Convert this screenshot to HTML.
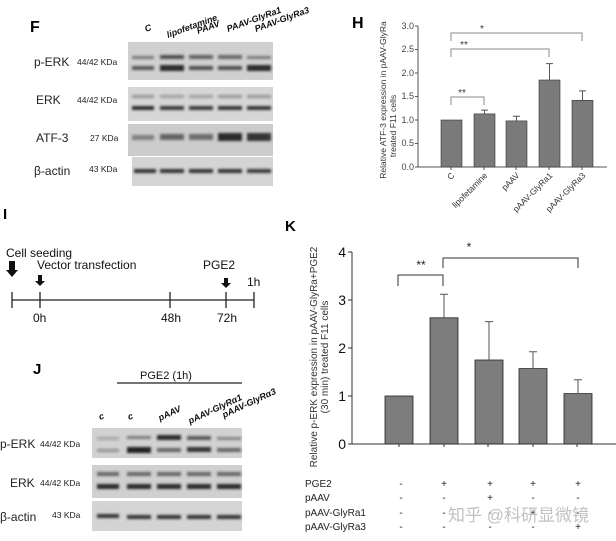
<!DOCTYPE html>
<html><head><meta charset="utf-8"><style>
html,body{margin:0;padding:0;background:#fff;}
svg{display:block;font-family:"Liberation Sans","Noto Sans CJK SC",sans-serif;}
</style></head><body>
<svg width="616" height="541" viewBox="0 0 616 541" xmlns="http://www.w3.org/2000/svg">
<defs>
<filter id="b" x="-20%" y="-100%" width="140%" height="300%"><feGaussianBlur stdDeviation="1.3"/></filter>
</defs>
<rect width="616" height="541" fill="#fff"/>

<!-- Panel F -->
<text x="30" y="32" font-size="16" font-weight="bold">F</text>
<g font-size="9" font-weight="bold" font-style="italic" fill="#111">
<text transform="translate(146,32) rotate(-20)">C</text>
<text transform="translate(168,38) rotate(-20)">lipofetamine</text>
<text transform="translate(198,34) rotate(-20)">PAAV</text>
<text transform="translate(228,32) rotate(-20)">PAAV-GlyRa1</text>
<text transform="translate(256,32) rotate(-20)">PAAV-GlyRa3</text>
</g>
<g font-size="12" fill="#222">
<text x="34" y="66">p-ERK</text>
<text x="36" y="104">ERK</text>
<text x="36" y="142">ATF-3</text>
<text x="34" y="175">β-actin</text>
</g>
<g font-size="8.5" fill="#222">
<text x="77" y="65">44/42 KDa</text>
<text x="77" y="103">44/42 KDa</text>
<text x="90" y="141">27 KDa</text>
<text x="89" y="172">43 KDa</text>
</g>
<rect x="128" y="42" width="145" height="38" fill="#d0d0d0"/>
<rect x="128" y="87" width="145" height="34" fill="#d6d6d6"/>
<rect x="128" y="124" width="145" height="32" fill="#cccccc"/>
<rect x="132" y="157" width="141" height="29" fill="#d4d4d4"/>
<g filter="url(#b)" fill="#222">
<rect x="132" y="56" width="22" height="3" opacity=".5"/><rect x="160" y="55" width="24" height="4" opacity=".75"/><rect x="189" y="55" width="24" height="4" opacity=".65"/><rect x="218" y="55" width="24" height="4" opacity=".6"/><rect x="247" y="56" width="24" height="3" opacity=".5"/>
<rect x="132" y="66" width="22" height="4" opacity=".7"/><rect x="160" y="65" width="24" height="6" opacity=".95"/><rect x="189" y="66" width="24" height="4" opacity=".75"/><rect x="218" y="66" width="24" height="4" opacity=".75"/><rect x="247" y="65" width="24" height="6" opacity=".95"/>
<rect x="132" y="95" width="22" height="3" opacity=".35"/><rect x="160" y="95" width="24" height="3" opacity=".3"/><rect x="189" y="95" width="24" height="3" opacity=".3"/><rect x="218" y="95" width="24" height="3" opacity=".35"/><rect x="247" y="95" width="24" height="3" opacity=".35"/>
<rect x="132" y="106" width="22" height="4" opacity=".95"/><rect x="160" y="106" width="24" height="4" opacity=".85"/><rect x="189" y="106" width="24" height="4" opacity=".85"/><rect x="218" y="106" width="24" height="4" opacity=".9"/><rect x="247" y="106" width="24" height="4" opacity=".9"/>
<rect x="132" y="135" width="22" height="5" opacity=".45"/><rect x="160" y="134" width="24" height="6" opacity=".6"/><rect x="189" y="134" width="24" height="6" opacity=".55"/><rect x="218" y="133" width="24" height="8" opacity=".95"/><rect x="247" y="133" width="24" height="8" opacity=".9"/>
<rect x="134" y="169" width="22" height="4" opacity=".9"/><rect x="160" y="169" width="24" height="4" opacity=".9"/><rect x="189" y="169" width="24" height="4" opacity=".9"/><rect x="218" y="169" width="24" height="4" opacity=".9"/><rect x="247" y="169" width="24" height="4" opacity=".85"/>
</g>

<!-- Panel H -->
<text x="352" y="28" font-size="16" font-weight="bold">H</text>
<g font-size="9" fill="#444" text-anchor="end">
<text x="414" y="29">3.0</text><text x="414" y="52">2.5</text><text x="414" y="76">2.0</text>
<text x="414" y="99">1.5</text><text x="414" y="123">1.0</text><text x="414" y="146">0.5</text><text x="414" y="170">0.0</text>
</g>
<g stroke="#555" stroke-width="1" fill="none">
<path d="M418 26V167H607"/>
<path d="M418 26h-3M418 49.5h-3M418 73h-3M418 96.5h-3M418 120h-3M418 143.5h-3M418 167h-3"/>
<path d="M451 167v3M484 167v3M516 167v3M549 167v3M582 167v3"/>
</g>
<g fill="#7a7a7a" stroke="#333" stroke-width=".6">
<rect x="441" y="120" width="21" height="47"/>
<rect x="474" y="113.9" width="21" height="53.1"/>
<rect x="506" y="120.9" width="21" height="46.1"/>
<rect x="539" y="80" width="21" height="87"/>
<rect x="572" y="100.3" width="21" height="66.7"/>
</g>
<g stroke="#555" stroke-width="1" fill="none">
<path d="M484.5 114V110.1M481 110.1h7"/>
<path d="M516.5 121V116.2M513 116.2h7"/>
<path d="M549.5 80V63.6M546 63.6h7"/>
<path d="M582.5 100V90.9M579 90.9h7"/>
<path d="M451 41V33H582V41" stroke="#888"/>
<path d="M451 57V49H549V57" stroke="#888"/>
<path d="M451 105V97H484V105" stroke="#888"/>
</g>
<g font-size="10" fill="#333" text-anchor="middle">
<text x="482" y="32">*</text><text x="464" y="48">**</text><text x="462" y="96">**</text>
</g>
<g font-size="8.5" fill="#333">
<text transform="translate(386,100) rotate(-90)" text-anchor="middle">Relative ATF-3 expression in pAAV-GlyRa</text>
<text transform="translate(396,126) rotate(-90)" text-anchor="middle">treated F11 cells</text>
<g text-anchor="end">
<text transform="translate(455,176) rotate(-45)">C</text>
<text transform="translate(488,176) rotate(-45)">lipofetamine</text>
<text transform="translate(520,176) rotate(-45)">pAAV</text>
<text transform="translate(553,176) rotate(-45)">pAAV-GlyRa1</text>
<text transform="translate(586,176) rotate(-45)">pAAV-GlyRa3</text>
</g>
</g>

<!-- Panel I -->
<text x="3" y="219" font-size="15" font-weight="bold">I</text>
<g font-size="12" fill="#111">
<text x="6" y="257">Cell seeding</text>
<text x="37" y="269">Vector transfection</text>
<text x="203" y="269">PGE2</text>
<text x="247" y="286">1h</text>
<text x="33" y="322">0h</text>
<text x="161" y="322">48h</text>
<text x="217" y="322">72h</text>
</g>
<g stroke="#222" stroke-width="1.3">
<path d="M12 300H254"/>
<path d="M12 292v16M40 292v16M170 292v16M226 292v16M254 292v16"/>
</g>
<g fill="#111">
<path d="M9 261h6v9h3l-6 7l-6-7h3z"/>
<path d="M38 275h4v6h3l-5 5l-5-5h3z"/>
<path d="M224 278h4v5h3l-5 5l-5-5h3z"/>
</g>

<!-- Panel J -->
<text x="33" y="374" font-size="15" font-weight="bold">J</text>
<text x="140" y="379" font-size="11" fill="#111">PGE2 (1h)</text>
<path d="M117 383H242" stroke="#222" stroke-width="1.2"/>
<g font-size="9" font-weight="bold" font-style="italic" fill="#111">
<text transform="translate(100,420) rotate(-20)">c</text>
<text transform="translate(129,420) rotate(-20)">c</text>
<text transform="translate(160,421) rotate(-25)">pAAV</text>
<text transform="translate(190,424) rotate(-25)">pAAV-GlyRα1</text>
<text transform="translate(224,418) rotate(-25)">pAAV-GlyRα3</text>
</g>
<g font-size="12" fill="#222">
<text x="0" y="448">p-ERK</text>
<text x="10" y="487">ERK</text>
<text x="0" y="521">β-actin</text>
</g>
<g font-size="8.5" fill="#222">
<text x="40" y="447">44/42 KDa</text>
<text x="40" y="486">44/42 KDa</text>
<text x="52" y="518">43 KDa</text>
</g>
<rect x="92" y="428" width="150" height="30" fill="#d2d2d2"/>
<rect x="92" y="465" width="150" height="33" fill="#d0d0d0"/>
<rect x="92" y="501" width="150" height="30" fill="#d4d4d4"/>
<g filter="url(#b)" fill="#222">
<rect x="97" y="437" width="22" height="3" opacity=".25"/><rect x="127" y="436" width="24" height="3" opacity=".5"/><rect x="157" y="435" width="24" height="5" opacity=".95"/><rect x="187" y="436" width="24" height="4" opacity=".7"/><rect x="217" y="437" width="24" height="3" opacity=".45"/>
<rect x="97" y="449" width="22" height="3" opacity=".35"/><rect x="127" y="447" width="24" height="6" opacity="1"/><rect x="157" y="448" width="24" height="4" opacity=".6"/><rect x="187" y="447" width="24" height="5" opacity=".9"/><rect x="217" y="448" width="24" height="4" opacity=".6"/>
<rect x="97" y="472" width="22" height="4" opacity=".6"/><rect x="127" y="472" width="24" height="4" opacity=".6"/><rect x="157" y="472" width="24" height="4" opacity=".6"/><rect x="187" y="472" width="24" height="4" opacity=".6"/><rect x="217" y="472" width="24" height="4" opacity=".6"/>
<rect x="97" y="484" width="22" height="5" opacity=".95"/><rect x="127" y="484" width="24" height="5" opacity=".95"/><rect x="157" y="484" width="24" height="5" opacity=".95"/><rect x="187" y="484" width="24" height="5" opacity=".95"/><rect x="217" y="484" width="24" height="5" opacity=".95"/>
<rect x="97" y="514" width="22" height="4" opacity=".9"/><rect x="127" y="515" width="24" height="4" opacity=".9"/><rect x="157" y="515" width="24" height="4" opacity=".9"/><rect x="187" y="515" width="24" height="4" opacity=".9"/><rect x="217" y="515" width="24" height="4" opacity=".9"/>
</g>

<!-- Panel K -->
<text x="285" y="231" font-size="15" font-weight="bold">K</text>
<g font-size="14" fill="#111" text-anchor="end">
<text x="346" y="257">4</text><text x="346" y="305">3</text><text x="346" y="353">2</text><text x="346" y="401">1</text><text x="346" y="449">0</text>
</g>
<g stroke="#333" stroke-width="1" fill="none">
<path d="M352 252V444H616"/>
<path d="M352 252h-4M352 300h-4M352 348h-4M352 396h-4M352 444h-4"/>
<path d="M399 444v3M444 444v3M488 444v3M533 444v3M577 444v3"/>
</g>
<g fill="#7d7d7d" stroke="#222" stroke-width=".8">
<rect x="385" y="396" width="28" height="48"/>
<rect x="430" y="317.8" width="28" height="126.2"/>
<rect x="475" y="360" width="28" height="84"/>
<rect x="519" y="368.6" width="28" height="75.4"/>
<rect x="564" y="393.6" width="28" height="50.4"/>
</g>
<g stroke="#555" stroke-width="1" fill="none">
<path d="M444 318V294.2M440 294.2h8"/>
<path d="M489 360V321.6M485 321.6h8"/>
<path d="M533 369V351.8M529 351.8h8"/>
<path d="M578 394V379.7M574 379.7h8"/>
<path d="M398 286V275H443V286" stroke="#333"/>
<path d="M443 268V258H578V268" stroke="#333"/>
</g>
<g font-size="12" fill="#222" text-anchor="middle">
<text x="421" y="269">**</text><text x="469" y="251">*</text>
</g>
<g font-size="10" fill="#333" text-anchor="middle">
<text transform="translate(317,357) rotate(-90)">Relative p-ERK expression in pAAV-GlyRa+PGE2</text>
<text transform="translate(328,357) rotate(-90)">(30 min) treated F11 cells</text>
</g>
<g font-size="10" fill="#222">
<text x="305" y="487">PGE2</text>
<text x="305" y="501">pAAV</text>
<text x="305" y="516">pAAV-GlyRa1</text>
<text x="305" y="530">pAAV-GlyRa3</text>
</g>
<g font-size="10" fill="#222" text-anchor="middle">
<text x="401" y="487">-</text><text x="444" y="487">+</text><text x="490" y="487">+</text><text x="533" y="487">+</text><text x="578" y="487">+</text>
<text x="401" y="501">-</text><text x="444" y="501">-</text><text x="490" y="501">+</text><text x="533" y="501">-</text><text x="578" y="501">-</text>
<text x="401" y="516">-</text><text x="444" y="516">-</text><text x="490" y="516">-</text><text x="533" y="516">+</text><text x="578" y="516">-</text>
<text x="401" y="530">-</text><text x="444" y="530">-</text><text x="490" y="530">-</text><text x="533" y="530">-</text><text x="578" y="530">+</text>
</g>
<text x="448" y="521" font-size="17" fill="#bbb" opacity=".9">知乎 @科研显微镜</text>
</svg>
</body></html>
